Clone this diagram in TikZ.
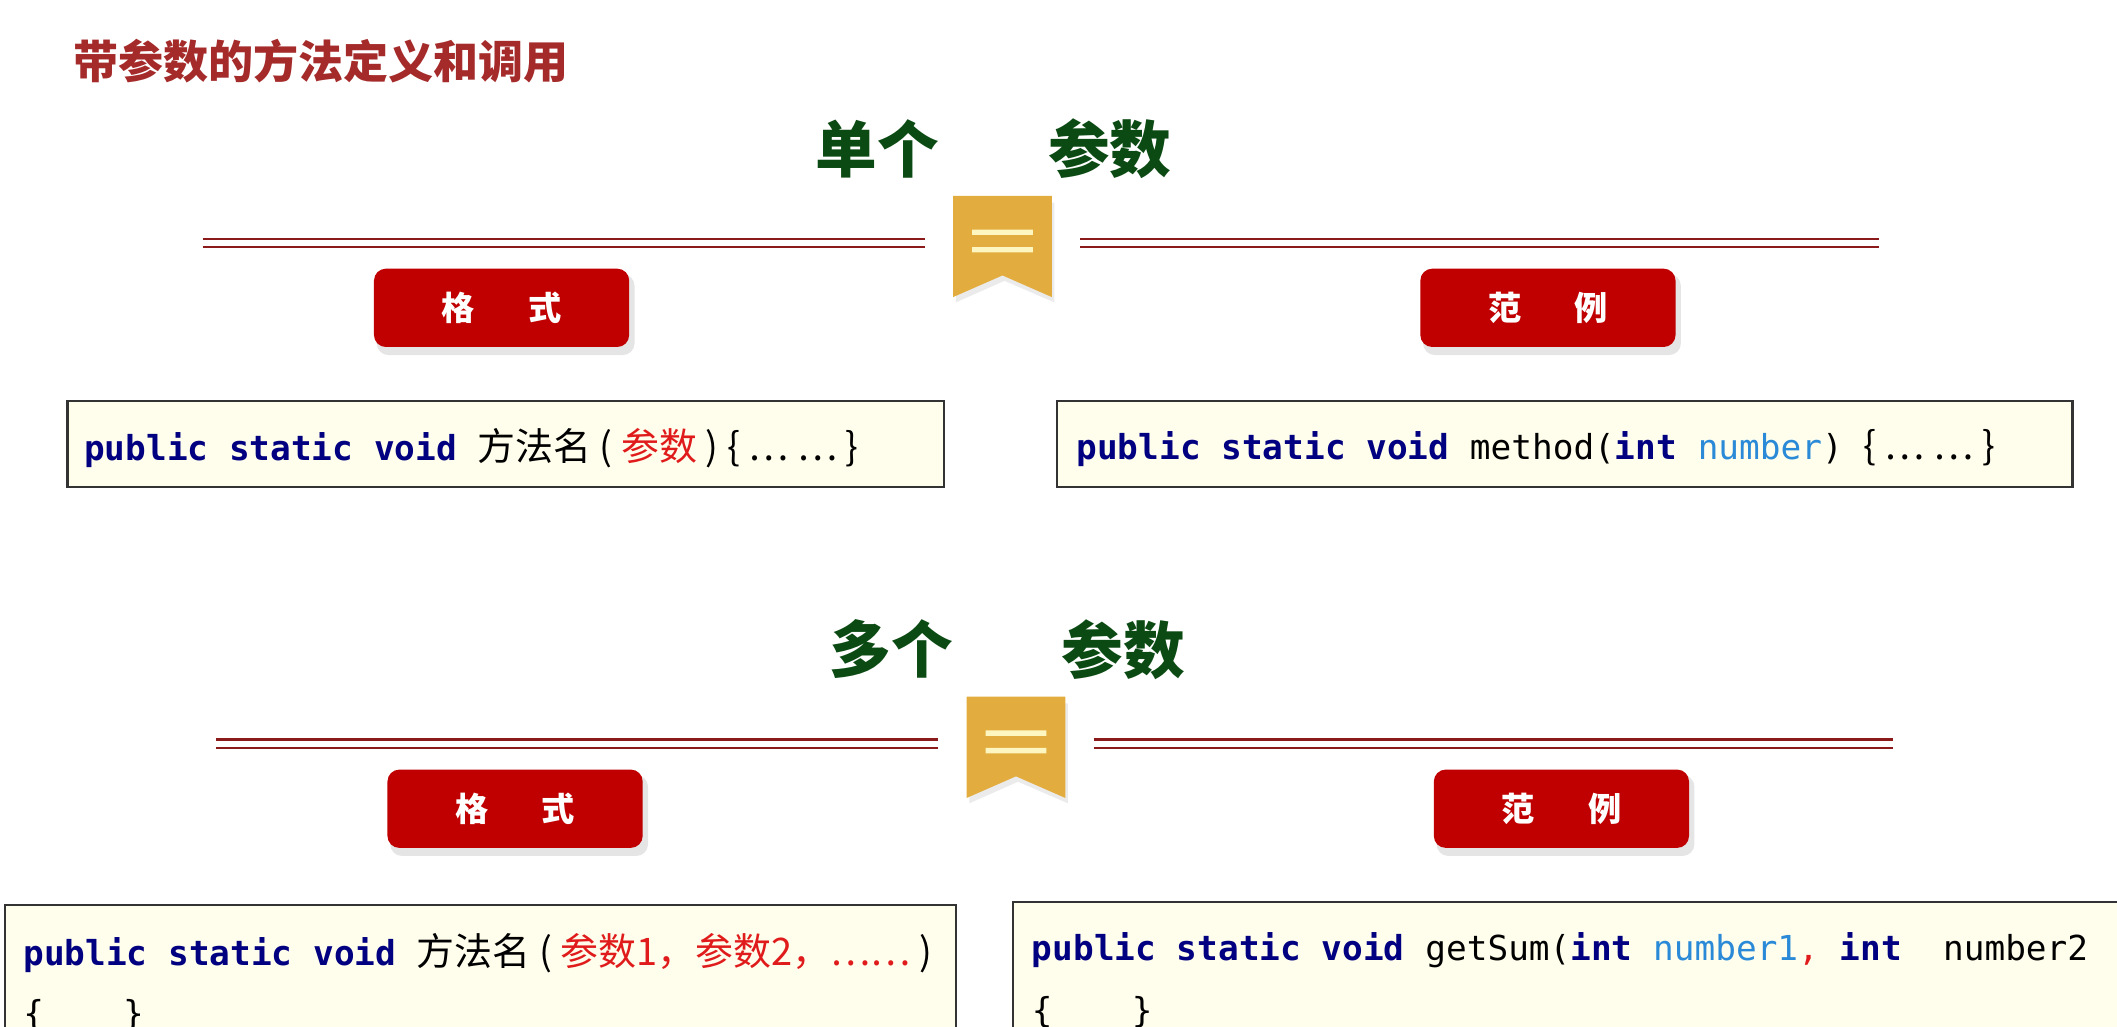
\documentclass[tikz,border=0pt]{standalone}
\usepackage{fontspec}
\setmainfont{Noto Sans CJK SC}
\newfontfamily\cjk{Noto Sans CJK SC}
\setmonofont{DejaVu Sans Mono}
\definecolor{dred}{HTML}{A52A2A}
\definecolor{bred}{HTML}{C00000}
\definecolor{dgreen}{HTML}{0B4A12}
\definecolor{gold}{HTML}{E3AC3E}
\definecolor{lyel}{HTML}{FDF6C0}
\definecolor{boxbg}{HTML}{FFFEEC}
\definecolor{kw}{HTML}{000080}
\definecolor{nb}{HTML}{2A8AD8}
\definecolor{cred}{HTML}{E01B1B}
\definecolor{lred}{HTML}{8B1A1A}
\begin{document}
\begin{tikzpicture}[x=0.02cm,y=-0.02cm,
  heading/.style={font=\cjk\bfseries\fontsize{26}{26}\selectfont, text=dgreen},
  btn/.style={fill=bred, rounded corners=5pt, draw=none},
  btntext/.style={text=white, font=\cjk\bfseries\fontsize{14}{14}\selectfont},
  codebox/.style={fill=boxbg, draw=black!80, line width=0.9pt},
  code/.style={anchor=west, font=\ttfamily\fontsize{14.5}{16}\selectfont, inner sep=0pt},
  dline/.style={lred, line width=1.2pt}]
\useasboundingbox (0,0) rectangle (1568,760);
\clip (0,0) rectangle (1568,760);
\newcommand{\kwd}[1]{\textcolor{kw}{\bfseries #1}}
\newcommand{\zh}[1]{{\cjk\fontsize{16}{16}\selectfont #1}}
\node[anchor=west, text=dred, font=\cjk\bfseries\fontsize{19}{19}\selectfont] (title) at (48,45) {带参数的方法定义和调用};
% sections
\foreach \dx/\dy/\hA/\sfx in {0/0/单个/a, 10/371/多个/b}{
  \node[heading] (h1\sfx) at (650+\dx,110+\dy) {\hA};
  \node[heading] (h2\sfx) at (822+\dx,110+\dy) {参数};
  \draw[dline] (150+\dx,177+\dy) -- (685+\dx,177+\dy) (150+\dx,183+\dy) -- (685+\dx,183+\dy);
  \draw[dline] (800+\dx,177+\dy) -- (1392+\dx,177+\dy) (800+\dx,183+\dy) -- (1392+\dx,183+\dy);
  \fill[black!8] (708+\dx,150+\dy) -- (781+\dx,150+\dy) -- (781+\dx,224+\dy) -- (744+\dx,208+\dy) -- (708+\dx,224+\dy) -- cycle;
  \fill[gold] (706+\dx,145+\dy) -- (779+\dx,145+\dy) -- (779+\dx,220+\dy) -- (742.5+\dx,204+\dy) -- (706+\dx,220+\dy) -- cycle;
  \fill[lyel] (720+\dx,170+\dy) rectangle (765+\dx,174+\dy) (720+\dx,183+\dy) rectangle (765+\dx,187+\dy);
  \fill[black!10, rounded corners=5pt] (279+\dx,203+\dy) rectangle (470+\dx,263+\dy);
  \fill[btn] (277+\dx,199+\dy) rectangle (466+\dx,257+\dy);
  \node[btntext] (f\sfx) at (371.5+\dx,228+\dy) {格\hspace{1.6em}式};
  \fill[black!10, rounded corners=5pt] (1054+\dx,203+\dy) rectangle (1245+\dx,263+\dy);
  \fill[btn] (1052+\dx,199+\dy) rectangle (1241+\dx,257+\dy);
  \node[btntext] (e\sfx) at (1146.5+\dx,228+\dy) {范\hspace{1.6em}例};
}
% code boxes
\draw[codebox] (50,297) rectangle (699,361);
\node[code] (c1) at (62,332) {\kwd{public static void} \zh{方法名 ( \textcolor{cred}{参数} ) \{ … … \}}};
\draw[codebox] (783,297) rectangle (1535,361);
\node[code] (c2) at (797,332) {\kwd{public static void} method(\kwd{int} \textcolor{nb}{number}) \zh{\{ … … \}}};
\draw[codebox] (4,670) rectangle (708,800);
\node[code] (c3) at (17,706) {\kwd{public static void} \zh{方法名 ( \textcolor{cred}{参数1，参数2，……} )}};
\node[code] (c3b) at (17,752) {\{\hspace{2.3em}\}};
\draw[codebox] (750,668) rectangle (1600,800);
\node[code] (c4) at (764,704) {\kwd{public static void} getSum(\kwd{int} \textcolor{nb}{number1}\textcolor{cred}{,} \kwd{int}  \ number2};
\node[code] (c4b) at (764,750) {\{\hspace{2.3em}\}};
\end{tikzpicture}
\end{document}
